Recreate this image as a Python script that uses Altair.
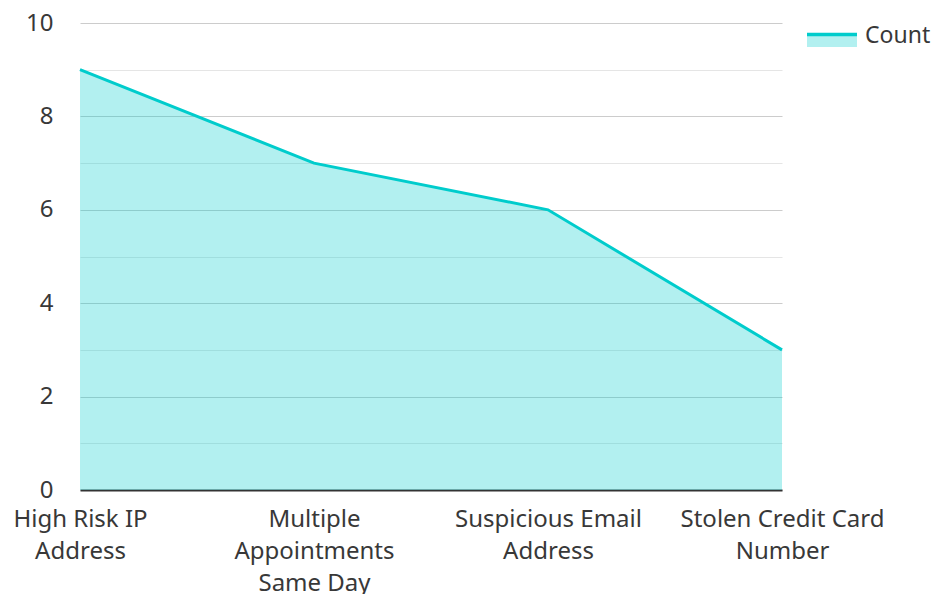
import altair as alt
import pandas as pd

categories = ["High Risk IP Address", "Multiple Appointments Same Day",
              "Suspicious Email Address", "Stolen Credit Card Number"]
label_lines = [["High Risk IP", "Address"], ["Multiple", "Appointments", "Same Day"],
               ["Suspicious Email", "Address"], ["Stolen Credit Card", "Number"]]
counts = [9, 7, 6, 3]
series_name = "Count"
y_ticks = list(range(0, 11))

df = pd.DataFrame({"category": categories, "value": counts})

# label expression for multi-line x labels
expr = "datum.label"
for cat, lines in zip(categories, label_lines):
    arr = "[" + ",".join("'" + l + "'" for l in lines) + "]"
    expr = f"datum.label == '{cat}' ? {arr} : ({expr})"

FONT = "Noto Sans"
TEAL = "#00cccc"
TXT = "#383838"
FS = 24

x_enc = alt.X("category:N", sort=categories, title=None,
              scale=alt.Scale(type="point", padding=0),
              axis=alt.Axis(labelAngle=0, labelExpr=expr, labelFontSize=FS,
                            labelColor=TXT, labelFont=FONT, labelPadding=17,
                            labelLineHeight=32, labelBaseline="top", labelLimit=400,
                            labelOverlap=False,
                            domainColor="#333333", domainWidth=2, ticks=False,
                            grid=False))
y_enc = alt.Y("value:Q", title=None,
              scale=alt.Scale(domain=[0, 10], nice=False),
              axis=alt.Axis(values=y_ticks, labelFontSize=FS, labelColor=TXT,
                            labelFont=FONT, labelPadding=27,
                            labelExpr="datum.value % 2 == 0 ? datum.label : ''",
                            ticks=False, domain=False, gridColor="#000000",
                            gridOpacity={"expr": "datum.value % 2 == 0 ? 0.2 : 0.1"}))

area = alt.Chart(df).mark_area(color=TEAL, opacity=0.3).encode(x=x_enc, y=y_enc)
line = alt.Chart(df).mark_line(color=TEAL, strokeWidth=3).encode(x=x_enc, y=y_enc)

leg_df = pd.DataFrame({"name": [series_name]})
leg_rect = alt.Chart(leg_df).mark_rect(color=TEAL, opacity=0.3, clip=False).encode(
    x=alt.value(727), x2=alt.value(777), y=alt.value(12), y2=alt.value(24))
leg_line = alt.Chart(leg_df).mark_rule(color=TEAL, strokeWidth=3.5, clip=False).encode(
    x=alt.value(727), x2=alt.value(777), y=alt.value(11.5))
leg_text = alt.Chart(leg_df).mark_text(align="left", baseline="middle", fontSize=23,
                                       font=FONT, color=TXT, clip=False).encode(
    x=alt.value(785), y=alt.value(12.5), text="name:N")

chart = alt.layer(area, line, leg_rect, leg_line, leg_text).properties(
    width=702, height=467,
    autosize=alt.AutoSizeParams(type="none"),
    padding={"left": 72, "top": 15, "right": 149, "bottom": 104},
).configure_view(stroke=None)

chart.save("out.html", embed_options={"renderer": "svg", "actions": False})
